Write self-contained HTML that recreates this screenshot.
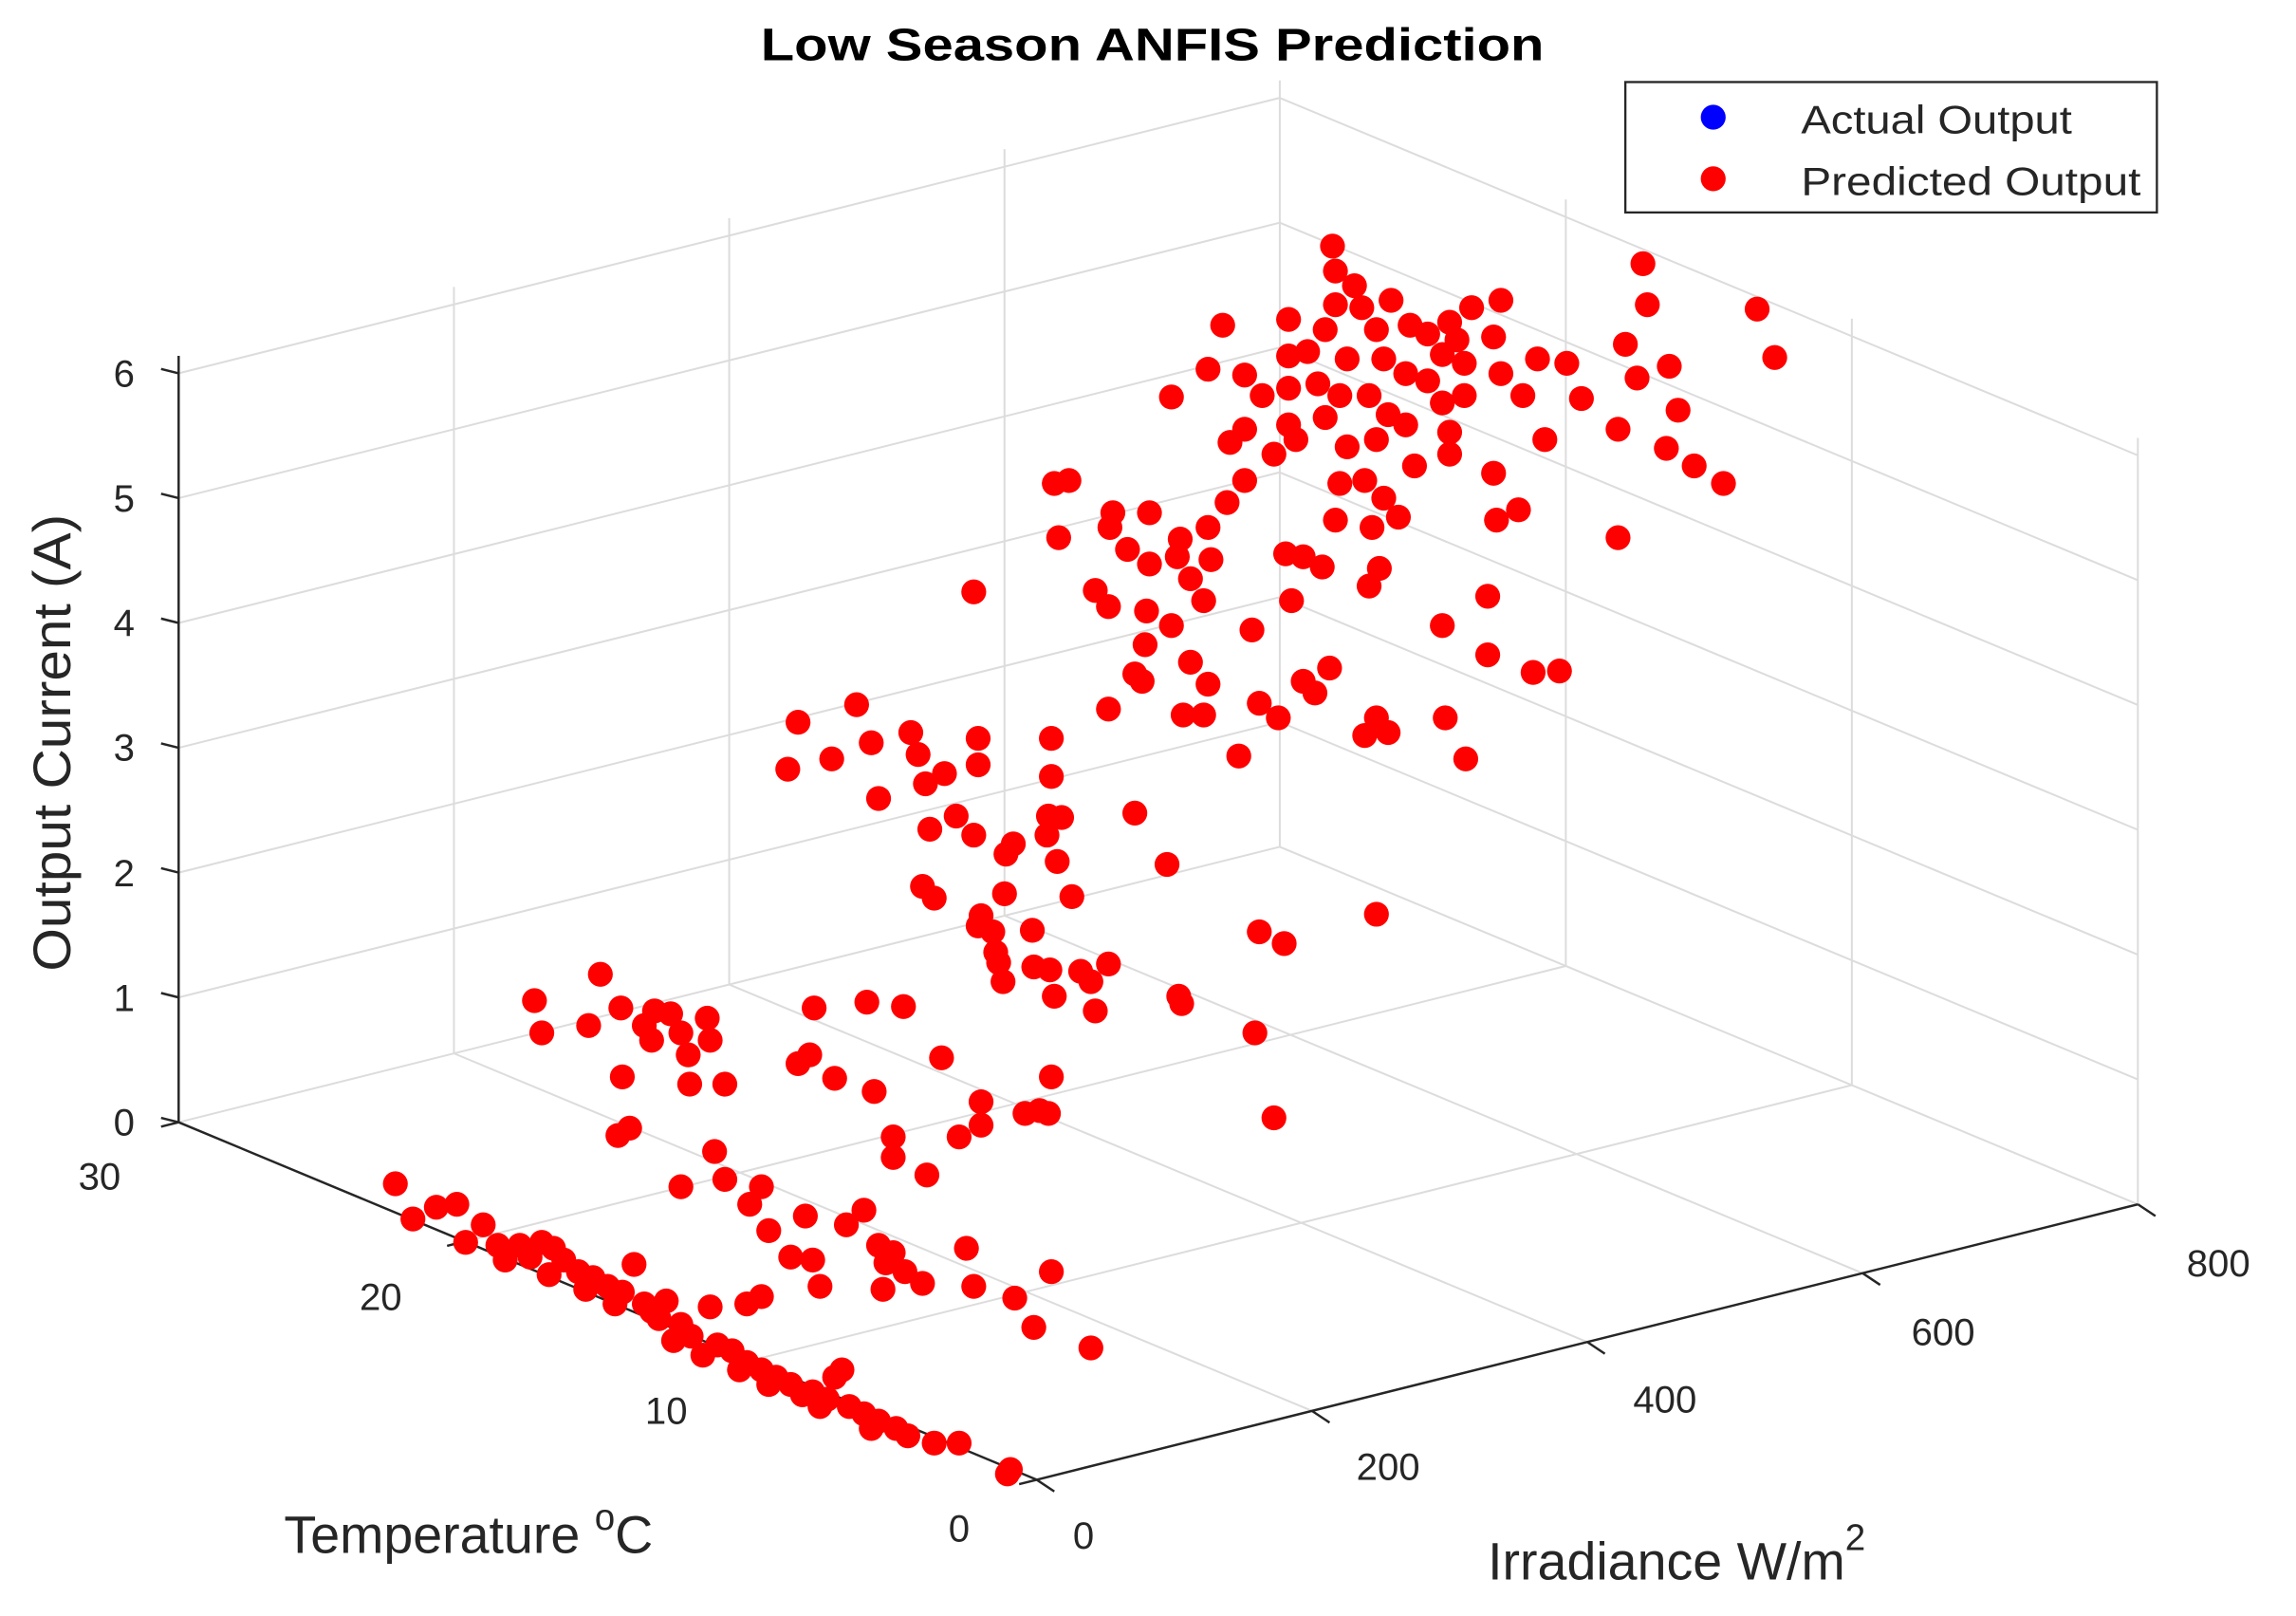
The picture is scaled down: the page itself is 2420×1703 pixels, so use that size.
<!DOCTYPE html>
<html><head><meta charset="utf-8"><style>
html,body{margin:0;padding:0;background:#fff;}
svg{display:block;}
text{font-family:"Liberation Sans",Arial,sans-serif;fill:#262626;}
</style></head><body>
<svg id="s" width="2420" height="1703" viewBox="0 0 1568 1103" preserveAspectRatio="none" xmlns="http://www.w3.org/2000/svg">
<rect width="1568" height="1103" fill="#fff"/>
<g id="grid" stroke="#dcdcdc" stroke-width="1.3" fill="none"></g>
<g id="axes" stroke="#262626" stroke-width="1.6" fill="none"></g>
<g id="dots" fill="#ff0000"></g>
<text x="787" y="41" text-anchor="middle" font-size="31" font-weight="bold" textLength="535" lengthAdjust="spacingAndGlyphs" style="fill:#000">Low Season ANFIS Prediction</text>
<g font-size="26" text-anchor="end">
<text x="92" y="264">6</text><text x="92" y="349">5</text><text x="92" y="434">4</text>
<text x="92" y="519">3</text><text x="92" y="605">2</text><text x="92" y="690">1</text><text x="92" y="775">0</text>
</g>
<g font-size="26" text-anchor="middle">
<text x="68" y="812">30</text><text x="260" y="894">20</text><text x="455" y="972">10</text><text x="655" y="1052">0</text>
<text x="740" y="1057">0</text><text x="948" y="1010">200</text><text x="1137" y="964">400</text><text x="1327" y="918">600</text><text x="1515" y="871">800</text>
</g>
<text x="320" y="1060" text-anchor="middle" font-size="36">Temperature <tspan dy="-16" font-size="25">o</tspan><tspan dy="16">C</tspan></text>
<text x="1145" y="1078" text-anchor="middle" font-size="36">Irradiance W/m<tspan dy="-20" font-size="25">2</tspan></text>
<text transform="translate(48,507) rotate(-90)" text-anchor="middle" font-size="36" textLength="312" lengthAdjust="spacingAndGlyphs">Output Current (A)</text>
<rect x="1110" y="56" width="363" height="89" fill="#fff" stroke="#262626" stroke-width="1.5"/>
<circle cx="1170" cy="80" r="8.5" fill="#0000ff"/>
<circle cx="1170" cy="122" r="8.5" fill="#ff0000"/>
<text x="1230" y="91" font-size="27" textLength="185" lengthAdjust="spacingAndGlyphs">Actual Output</text>
<text x="1230" y="133" font-size="27" textLength="232" lengthAdjust="spacingAndGlyphs">Predicted Output</text>
</svg>
<script>
var NS="http://www.w3.org/2000/svg";
var A=[122,766],B=[708,1010],C=[1460,822],ZS=85.2,ZT=6.14;
function P(T,I,z){return [B[0]+(A[0]-B[0])*T/30+(C[0]-B[0])*I/800, B[1]+(A[1]-B[1])*T/30+(C[1]-B[1])*I/800-ZS*z];}
function L(g,p,q){var l=document.createElementNS(NS,"line");l.setAttribute("x1",p[0]);l.setAttribute("y1",p[1]);l.setAttribute("x2",q[0]);l.setAttribute("y2",q[1]);document.getElementById(g).appendChild(l);}
for(var z=0;z<=6;z++)L("grid",P(30,0,z),P(30,800,z));
for(var I=200;I<=800;I+=200)L("grid",P(30,I,0),P(30,I,ZT));
for(var z=0;z<=6;z++)L("grid",P(30,800,z),P(0,800,z));
for(var T=0;T<=20;T+=10)L("grid",P(T,800,0),P(T,800,ZT));
for(var T=10;T<=20;T+=10)L("grid",P(T,0,0),P(T,800,0));
for(var I=200;I<=600;I+=200)L("grid",P(0,I,0),P(30,I,0));
L("axes",P(30,0,0),P(30,0,ZT));L("axes",P(30,0,0),P(0,0,0));L("axes",P(0,0,0),P(0,800,0));
for(var z=0;z<=6;z++){var p=P(30,0,z);L("axes",p,[p[0]-12,p[1]-3]);}
for(var T=0;T<=30;T+=10){var p=P(T,0,0);L("axes",p,[p[0]-12,p[1]+3]);}
for(var I=0;I<=800;I+=200){var p=P(0,I,0);L("axes",p,[p[0]+12,p[1]+8]);}
var pts=[910,168,912,185,925,195,912,208,930,210,950,205,880,218,905,225,940,225,963,222,975,228,990,220,1005,210,1025,205,995,232,1020,230,1050,245,1070,248,1122,180,1125,208,1200,211,1212,244,1110,235,1140,250,1118,258,1080,272,1105,293,1138,306,1146,280,1157,318,1177,330,1105,367,835,222,825,252,800,271,850,256,880,243,893,240,920,245,945,245,960,255,975,260,985,242,1000,248,880,265,900,262,915,270,935,270,948,283,960,290,985,275,990,295,1000,270,1025,255,1040,270,1055,300,862,270,880,290,905,285,920,305,940,300,966,318,990,310,1020,323,850,293,840,302,870,310,885,300,915,330,932,328,945,340,937,360,955,353,912,355,1022,355,1037,348,850,328,838,343,825,360,806,368,827,382,720,330,730,328,723,367,760,350,785,350,758,360,770,375,785,385,804,380,813,395,822,410,748,403,757,414,783,417,800,427,782,440,775,460,780,465,813,452,825,467,808,488,822,488,757,484,855,430,846,516,878,378,890,380,903,387,882,410,942,388,935,400,860,480,873,490,890,465,898,473,908,456,940,490,948,500,932,502,985,427,1016,407,1016,447,987,490,1001,518,1047,459,1065,458,665,404,
545,493,585,481,538,525,568,518,600,545,595,507,622,500,627,515,632,535,645,528,668,504,668,522,718,504,653,557,635,566,665,570,687,583,692,576,718,530,716,557,725,558,715,570,722,588,775,555,797,590,630,605,638,613,670,625,668,632,678,636,680,650,686,610,705,635,706,660,717,662,732,612,738,663,745,670,757,658,748,690,685,670,682,657,720,680,805,680,807,685,860,636,877,644,940,624,857,705,870,763,710,758,718,735,700,760,716,760,670,752,670,768,
410,665,365,683,370,705,402,700,424,688,447,690,458,692,440,700,445,710,470,720,465,705,483,695,485,710,471,740,495,740,425,735,556,688,592,684,617,687,553,720,545,726,570,736,597,745,643,722,610,776,610,790,655,776,633,802,422,775,430,770,488,786,465,810,495,805,520,810,512,822,525,840,550,830,590,826,578,836,555,860,540,858,600,850,605,862,610,855,618,868,630,876,560,878,520,885,510,890,603,880,660,852,665,878,693,886,718,868,706,906,745,920,
270,808,282,832,298,824,312,822,318,848,330,836,340,850,355,850,362,858,370,848,378,852,385,860,395,868,405,872,415,878,425,882,433,863,440,890,455,888,450,900,465,904,472,912,485,892,490,918,500,922,510,930,520,935,530,940,540,945,548,952,555,950,565,955,575,935,580,960,590,965,600,970,612,975,620,980,638,985,655,985,690,1003,688,1006,345,860,375,870,400,880,420,890,445,895,460,915,480,925,505,935,525,945,560,960,595,975,570,940];
var g=document.getElementById("dots");
for(var i=0;i<pts.length;i+=2){var c=document.createElementNS(NS,"circle");c.setAttribute("cx",pts[i]);c.setAttribute("cy",pts[i+1]);c.setAttribute("r",8.5);g.appendChild(c);}
</script>
</body></html>
